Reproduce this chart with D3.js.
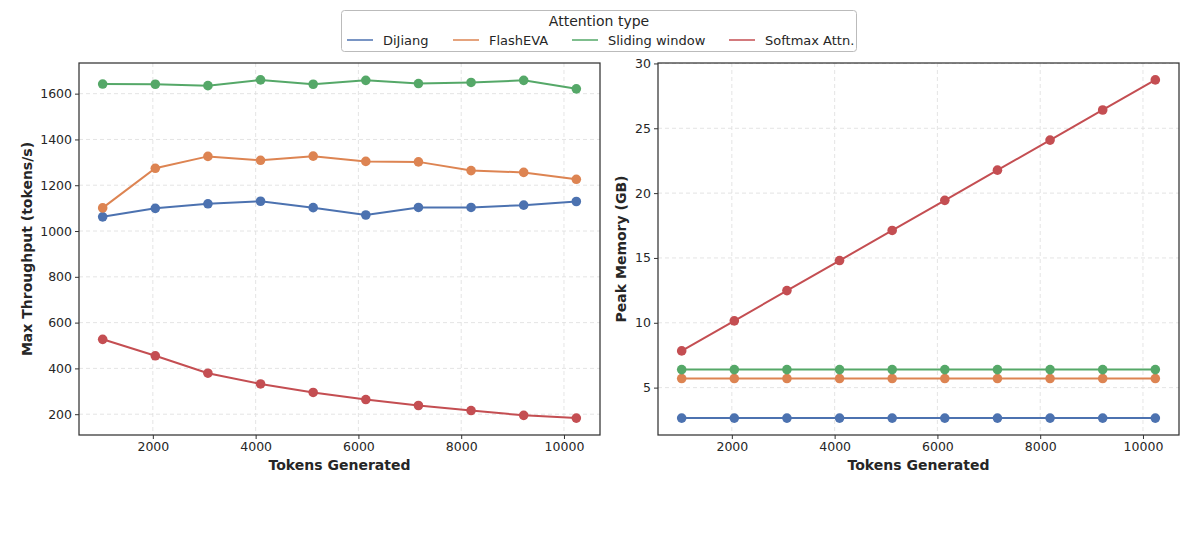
<!DOCTYPE html>
<html>
<head>
<meta charset="utf-8">
<script src="https://cdn.jsdelivr.net/npm/d3@7"></script>
<style>
  body { margin: 0; background: #fff; }
  svg { font-family: "DejaVu Sans", sans-serif; }
  .grid line { stroke: #ddd; stroke-dasharray: 4,3; stroke-width: 0.8; }
  .axis text { font-family: "DejaVu Sans", sans-serif; font-size: 12.5px; fill: #262626; }
  .axis line, .axis path { stroke: #333; }
</style>
</head>
<body>
<div id="chart"></div>
<script>
// tokens generated
var tokens = [1024, 2048, 3072, 4096, 5120, 6144, 7168, 8192, 9216, 10240];

var seriesNames = ["DiJiang", "FlashEVA", "Sliding window", "Softmax Attn."];
var seriesColors = ["#4C72B0", "#DD8452", "#55A868", "#C44E52"];

// max throughput (tokens/s)
var throughputDiJiang = [1062, 1099, 1119, 1130, 1102, 1070, 1103, 1103, 1113, 1129];
var throughputFlashEVA = [1101, 1274, 1326, 1309, 1327, 1304, 1302, 1264, 1256, 1226];
var throughputSliding = [1642, 1641, 1635, 1660, 1641, 1658, 1644, 1649, 1658, 1621];
var throughputSoftmax = [527, 455, 379, 332, 295, 264, 238, 216, 195, 183];

// peak memory (GB)
var memoryDiJiang = [2.65, 2.65, 2.65, 2.65, 2.65, 2.65, 2.65, 2.65, 2.65, 2.65];
var memoryFlashEVA = [5.7, 5.7, 5.7, 5.7, 5.7, 5.7, 5.7, 5.7, 5.7, 5.7];
var memorySliding = [6.39, 6.39, 6.39, 6.39, 6.39, 6.39, 6.39, 6.39, 6.39, 6.39];
var memorySoftmax = [7.83, 10.15, 12.48, 14.8, 17.12, 19.44, 21.77, 24.09, 26.41, 28.73];

var xTicks = [2000, 4000, 6000, 8000, 10000];
var throughputTicks = [200, 400, 600, 800, 1000, 1200, 1400, 1600];
var memoryTicks = [5, 10, 15, 20, 25, 30];

var W = 1199, H = 541;
var svg = d3.select("#chart").append("svg")
    .attr("width", W)
    .attr("height", H);

// matplotlib style 5% margins
function padded(ext) {
    var r = ext[1] - ext[0];
    return [ext[0] - r * 0.05, ext[1] + r * 0.05];
}

function drawPanel(opts) {
    var x = d3.scaleLinear().domain(padded(d3.extent(tokens))).range([opts.left, opts.right]);
    var all = d3.merge(opts.series);
    var y = d3.scaleLinear().domain(padded(d3.extent(all))).range([opts.bottom, opts.top]);

    var g = svg.append("g");

    // grid
    var grid = g.append("g").attr("class", "grid");
    grid.selectAll(".gx").data(xTicks).enter().append("line")
        .attr("x1", function (d) { return x(d); })
        .attr("x2", function (d) { return x(d); })
        .attr("y1", opts.top).attr("y2", opts.bottom);
    grid.selectAll(".gy").data(opts.yTicks).enter().append("line")
        .attr("y1", function (d) { return y(d); })
        .attr("y2", function (d) { return y(d); })
        .attr("x1", opts.left).attr("x2", opts.right);

    // axes
    g.append("g")
        .attr("class", "axis")
        .attr("transform", "translate(0," + opts.bottom + ")")
        .call(d3.axisBottom(x).tickValues(xTicks).tickFormat(d3.format("d"))
            .tickSize(4).tickPadding(3).tickSizeOuter(0))
        .select(".domain").remove();
    g.append("g")
        .attr("class", "axis")
        .attr("transform", "translate(" + opts.left + ",0)")
        .call(d3.axisLeft(y).tickValues(opts.yTicks).tickFormat(d3.format("d"))
            .tickSize(4).tickPadding(3).tickSizeOuter(0))
        .select(".domain").remove();

    // lines and markers
    opts.series.forEach(function (vals, i) {
        var pts = tokens.map(function (t, j) { return [t, vals[j]]; });
        var line = d3.line()
            .x(function (d) { return x(d[0]); })
            .y(function (d) { return y(d[1]); });
        g.append("path")
            .datum(pts)
            .attr("fill", "none")
            .attr("stroke", seriesColors[i])
            .attr("stroke-width", 2)
            .attr("d", line);
        g.selectAll(".m" + i).data(pts).enter().append("circle")
            .attr("cx", function (d) { return x(d[0]); })
            .attr("cy", function (d) { return y(d[1]); })
            .attr("r", 4.8)
            .attr("fill", seriesColors[i]);
    });

    // frame
    g.append("rect")
        .attr("x", opts.left).attr("y", opts.top)
        .attr("width", opts.right - opts.left)
        .attr("height", opts.bottom - opts.top)
        .attr("fill", "none")
        .attr("stroke", "#333")
        .attr("stroke-width", 1.25);

    // labels
    g.append("text")
        .attr("x", (opts.left + opts.right) / 2)
        .attr("y", opts.bottom + 35)
        .attr("text-anchor", "middle")
        .style("font-size", "14px")
        .style("font-weight", "bold")
        .attr("fill", "#262626")
        .text("Tokens Generated");
    g.append("text")
        .attr("transform", "translate(" + opts.yLabelX + "," + ((opts.top + opts.bottom) / 2) + ") rotate(-90)")
        .attr("text-anchor", "middle")
        .style("font-size", "14px")
        .style("font-weight", "bold")
        .attr("fill", "#262626")
        .text(opts.yLabel);
}

drawPanel({
    left: 79, right: 600, top: 63, bottom: 435,
    series: [throughputDiJiang, throughputFlashEVA, throughputSliding, throughputSoftmax],
    yTicks: throughputTicks,
    yLabel: "Max Throughput (tokens/s)",
    yLabelX: 32
});

drawPanel({
    left: 658, right: 1179, top: 63, bottom: 435,
    series: [memoryDiJiang, memoryFlashEVA, memorySliding, memorySoftmax],
    yTicks: memoryTicks,
    yLabel: "Peak Memory (GB)",
    yLabelX: 626
});

// legend
var legend = svg.append("g");
legend.append("rect")
    .attr("x", 341.5).attr("y", 10.5)
    .attr("width", 515).attr("height", 41)
    .attr("rx", 3)
    .attr("fill", "#fff")
    .attr("stroke", "#bbb");
legend.append("text")
    .attr("x", 599).attr("y", 26)
    .attr("text-anchor", "middle")
    .style("font-size", "14px")
    .attr("fill", "#262626")
    .text("Attention type");
var legendX = [347, 453, 572, 729];
seriesNames.forEach(function (name, i) {
    legend.append("line")
        .attr("x1", legendX[i]).attr("x2", legendX[i] + 26)
        .attr("y1", 40).attr("y2", 40)
        .attr("stroke", seriesColors[i])
        .attr("stroke-width", 1.5);
    legend.append("text")
        .attr("x", legendX[i] + 36).attr("y", 44.5)
        .style("font-size", "13px")
        .attr("fill", "#262626")
        .text(name);
});
</script>
</body>
</html>
